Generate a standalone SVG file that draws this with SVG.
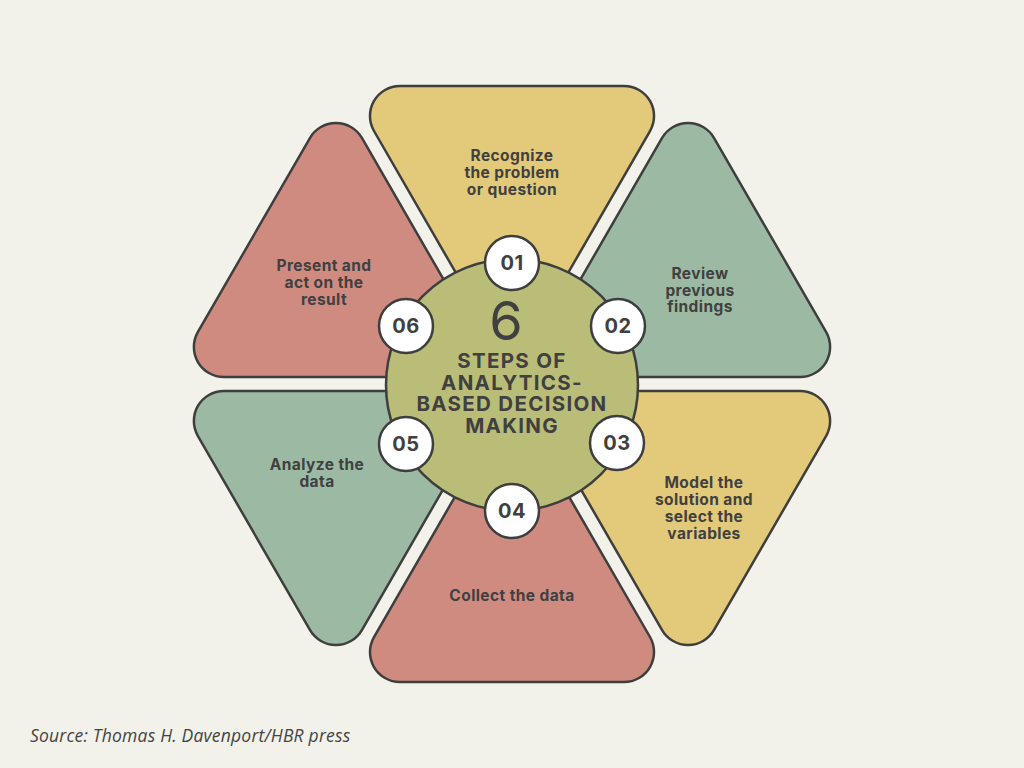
<svg xmlns="http://www.w3.org/2000/svg" xmlns:xlink="http://www.w3.org/1999/xlink" width="1024" height="768" viewBox="0 0 1024 768">
  <style>
    .tri { stroke: #3e3e3e; stroke-width: 2.5; stroke-linejoin: round; }
    .yellow { fill: #e3c97a; }
    .green { fill: #9cbaa3; }
    .red { fill: #cf8b80; }
    .label { font-family: Inter, "Liberation Sans", sans-serif; font-weight: 700; font-size: 15.5px; letter-spacing: 0.4px; fill: #404040; text-anchor: middle; }
    .badge circle { fill: #ffffff; stroke: #3e3e3e; stroke-width: 2.5; }
    .badge text { font-family: Inter, "Liberation Sans", sans-serif; font-weight: 700; font-size: 20px; letter-spacing: 0.5px; fill: #404040; text-anchor: middle; }
    .title { font-family: Inter, "Liberation Sans", sans-serif; font-weight: 700; font-size: 20.5px; letter-spacing: 1.3px; fill: #404040; text-anchor: middle; }
    .big { font-family: Inter, "Liberation Sans", sans-serif; font-weight: 400; font-size: 54px; fill: #404040; text-anchor: middle; }
    .source { font-family: "Open Sans", "Liberation Sans", sans-serif; font-style: italic; font-size: 17.5px; letter-spacing: 0.2px; fill: #444444; }
  </style>
  <defs>
    <path id="tri" d="M400,86 L624,86 A30,30 0 0 1 650,131 L538,325 A30,30 0 0 1 486,325 L374,131 A30,30 0 0 1 400,86 Z"/>
  </defs>
  <rect width="1024" height="768" fill="#f2f2eb"/>

  <g id="step-1">
    <use href="#tri" xlink:href="#tri" class="tri yellow"/>
    <text class="label" x="512" y="161">Recognize</text>
    <text class="label" x="512" y="178">the problem</text>
    <text class="label" x="512" y="194.5">or question</text>
  </g>
  <g id="step-2">
    <use href="#tri" xlink:href="#tri" class="tri green" transform="rotate(60 512 384)"/>
    <text class="label" x="700" y="278.5">Review</text>
    <text class="label" x="700" y="295.5">previous</text>
    <text class="label" x="700" y="312">findings</text>
  </g>
  <g id="step-3">
    <use href="#tri" xlink:href="#tri" class="tri yellow" transform="rotate(120 512 384)"/>
    <text class="label" x="704" y="487.5">Model the</text>
    <text class="label" x="704" y="504.5">solution and</text>
    <text class="label" x="704" y="521.5">select the</text>
    <text class="label" x="704" y="538.5">variables</text>
  </g>
  <g id="step-4">
    <use href="#tri" xlink:href="#tri" class="tri red" transform="rotate(180 512 384)"/>
    <text class="label" x="512" y="600.5">Collect the data</text>
  </g>
  <g id="step-5">
    <use href="#tri" xlink:href="#tri" class="tri green" transform="rotate(240 512 384)"/>
    <text class="label" x="317" y="470">Analyze the</text>
    <text class="label" x="317" y="487">data</text>
  </g>
  <g id="step-6">
    <use href="#tri" xlink:href="#tri" class="tri red" transform="rotate(300 512 384)"/>
    <text class="label" x="324" y="271">Present and</text>
    <text class="label" x="324" y="288">act on the</text>
    <text class="label" x="324" y="304.5">result</text>
  </g>

  <g id="center">
    <circle cx="512" cy="385" r="126" fill="#b9bd77" stroke="#3e3e3e" stroke-width="2.5"/>
    <text class="big" x="506" y="340">6</text>
    <text class="title" x="512" y="368">STEPS OF</text>
    <text class="title" x="512" y="389.5">ANALYTICS-</text>
    <text class="title" x="512" y="411">BASED DECISION</text>
    <text class="title" x="512" y="433">MAKING</text>
  </g>

  <g id="badge-01" class="badge"><circle cx="512" cy="263" r="27"/><text x="512" y="270">01</text></g>
  <g id="badge-02" class="badge"><circle cx="618" cy="326" r="27"/><text x="618" y="333">02</text></g>
  <g id="badge-03" class="badge"><circle cx="617" cy="443" r="27"/><text x="617" y="450">03</text></g>
  <g id="badge-04" class="badge"><circle cx="512" cy="511" r="27"/><text x="512" y="518">04</text></g>
  <g id="badge-05" class="badge"><circle cx="406" cy="444" r="27"/><text x="406" y="451">05</text></g>
  <g id="badge-06" class="badge"><circle cx="406" cy="326" r="27"/><text x="406" y="333">06</text></g>

  <text class="source" x="30" y="742">Source: Thomas H. Davenport/HBR press</text>
</svg>
